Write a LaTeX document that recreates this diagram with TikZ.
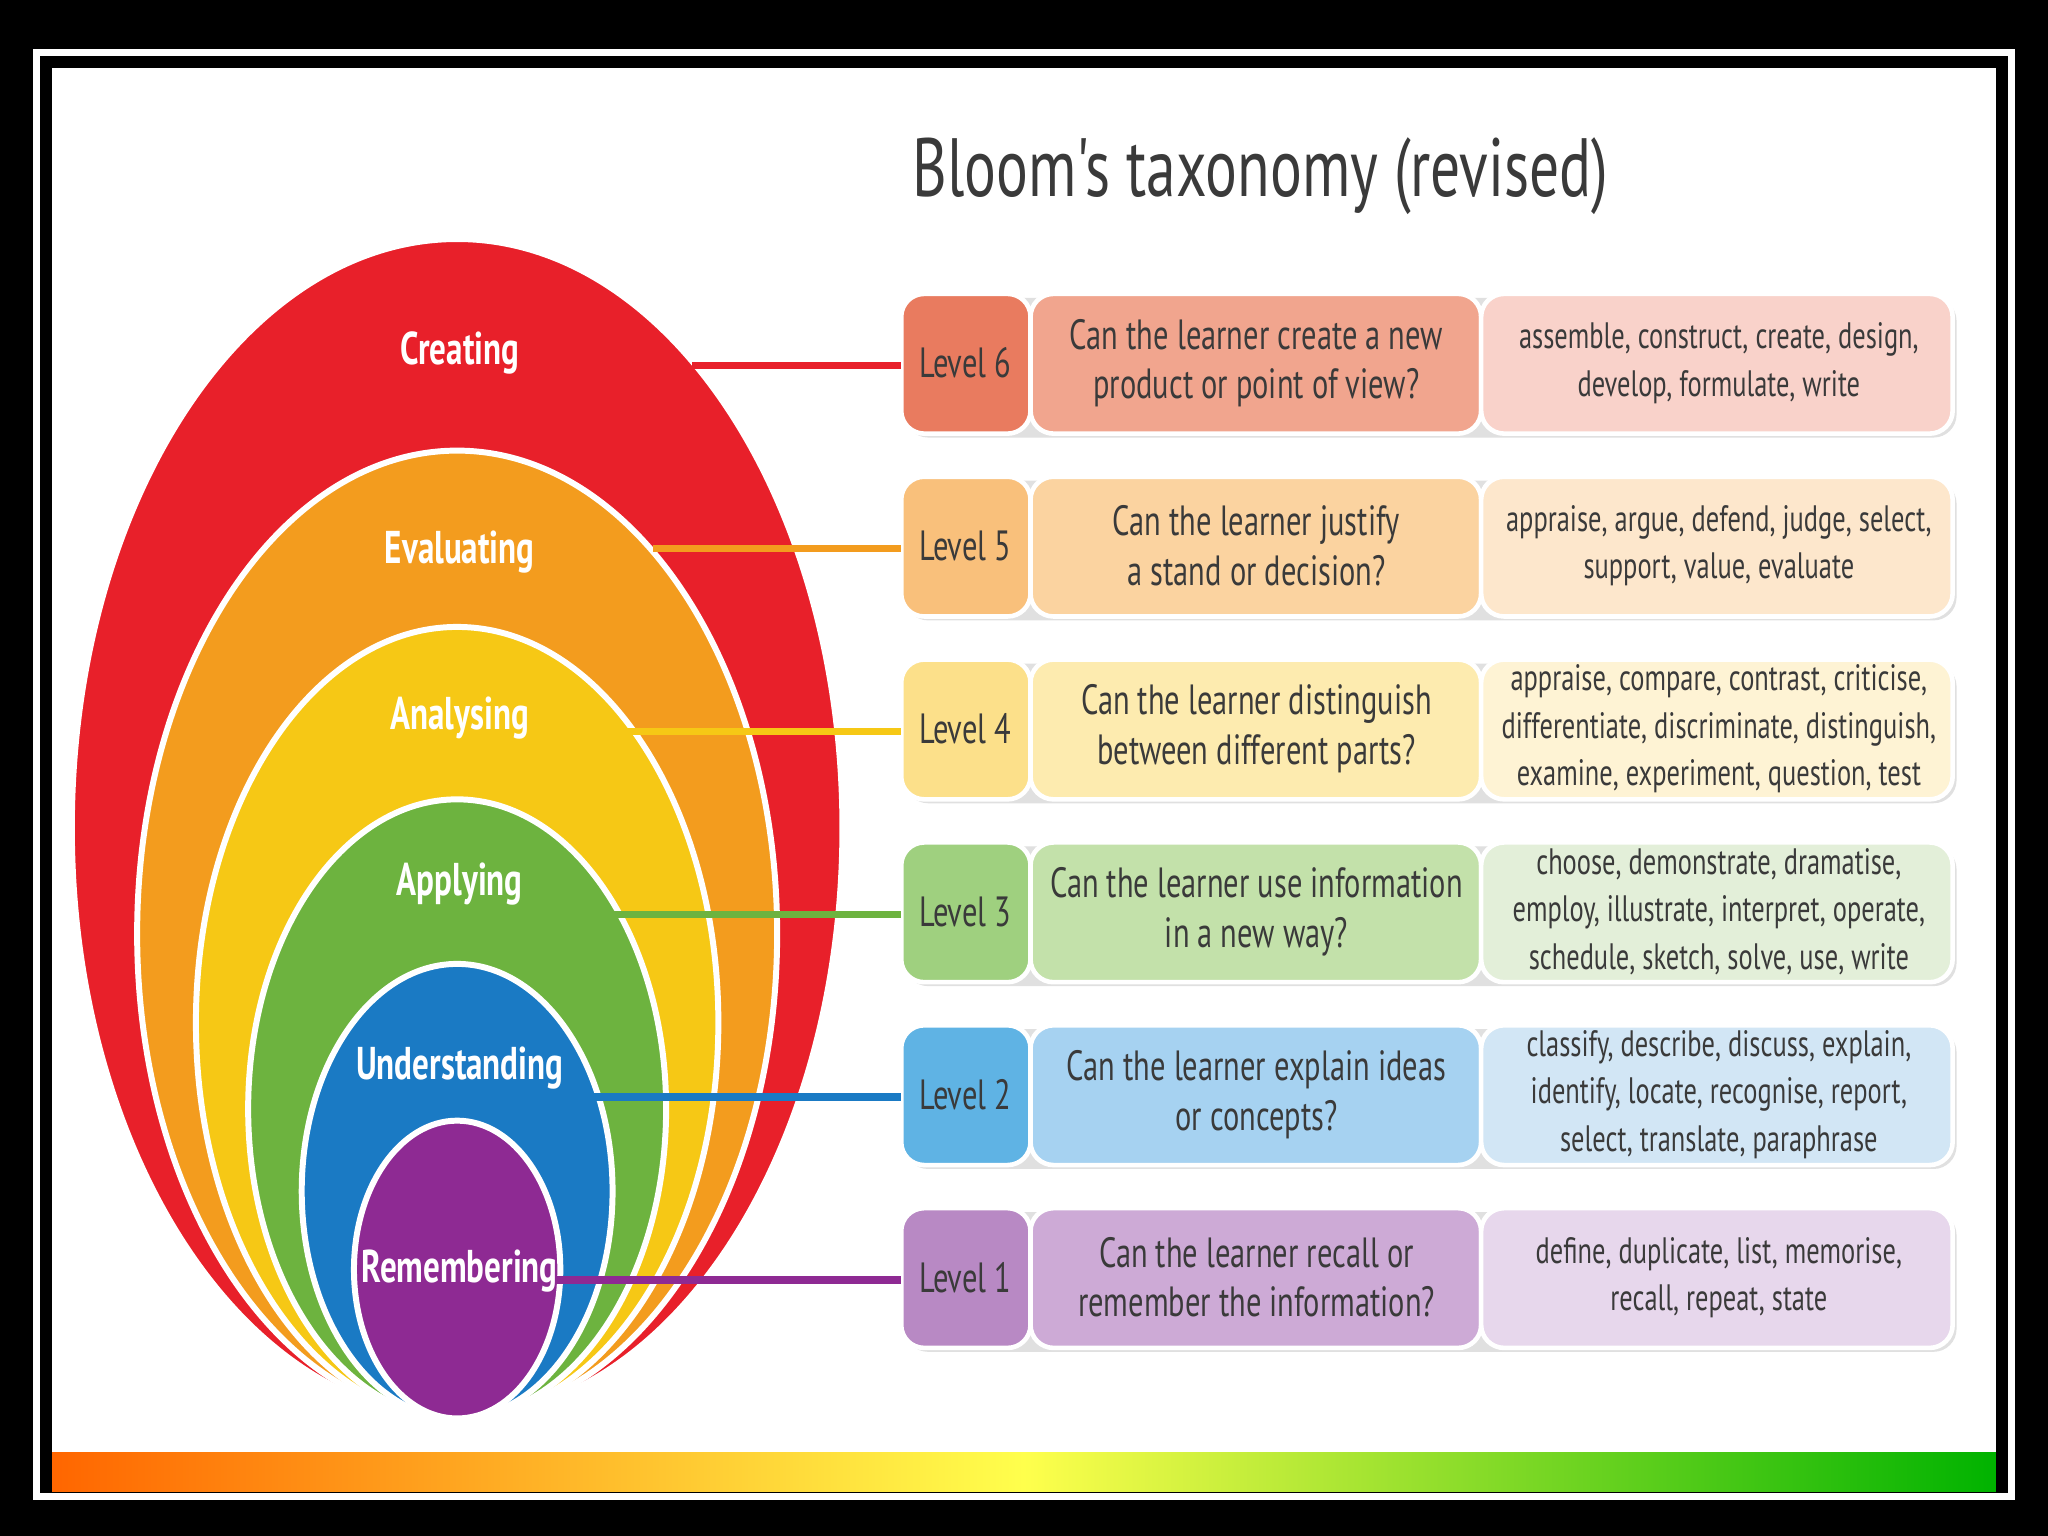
\documentclass[tikz,border=0pt]{standalone}
\usepackage{fontspec}
\newfontfamily\cond[FakeStretch=0.72]{PT Sans}
\newfontfamily\condb[FakeStretch=0.72]{PT Sans Bold}
\definecolor{cR}{HTML}{E8202A}\definecolor{cO}{HTML}{F39C1E}\definecolor{cY}{HTML}{F6C815}
\definecolor{cG}{HTML}{6DB33F}\definecolor{cB}{HTML}{1A7AC4}\definecolor{cP}{HTML}{8E2A93}
\definecolor{l6}{HTML}{E97B5F}\definecolor{q6}{HTML}{F1A58E}\definecolor{v6}{HTML}{F9D2CA}
\definecolor{l5}{HTML}{F9C07B}\definecolor{q5}{HTML}{FBD3A0}\definecolor{v5}{HTML}{FDE7CC}
\definecolor{l4}{HTML}{FCE08A}\definecolor{q4}{HTML}{FDEBAF}\definecolor{v4}{HTML}{FEF3D4}
\definecolor{l3}{HTML}{9FD07F}\definecolor{q3}{HTML}{C3E1AA}\definecolor{v3}{HTML}{E3EFD9}
\definecolor{l2}{HTML}{5FB3E4}\definecolor{q2}{HTML}{A6D2F1}\definecolor{v2}{HTML}{D2E6F5}
\definecolor{l1}{HTML}{B889C4}\definecolor{q1}{HTML}{CDAAD6}\definecolor{v1}{HTML}{E7D7EC}
\definecolor{txt}{HTML}{3A3A3A}
\begin{document}
\begin{tikzpicture}[x=0.01cm,y=-0.01cm,
  ring/.style={draw=white,line width=1.3pt},
  lab/.style={text=white,font=\condb\fontsize{10}{12}\selectfont},
  conn/.style={line width=1.6pt},
  cell/.style={rounded corners=5pt,draw=white,line width=1pt},
  ctext/.style={align=center,text=txt,font=\cond\fontsize{9.2}{10.8}\selectfont},
  vtext/.style={align=center,text=txt,font=\cond\fontsize{8}{10.3}\selectfont}]
\fill[black] (0,0) rectangle (1568,1176);
\draw[white,line width=1.5pt] (28,40) rectangle (1540,1146);
\fill[white] (40,52) rectangle (1528,1112);
\shade[left color=orange!80!red,right color=green!70!black,middle color=yellow!70] (40,1112) rectangle (1528,1142);
\node[font=\cond\fontsize{18}{20}\selectfont,text=txt] (title) at (965,135) {Bloom's taxonomy (revised)};
\filldraw[fill=cR,ring] (350,634) ellipse [x radius=295,y radius=451];
\filldraw[fill=cO,ring] (350,715) ellipse [x radius=245,y radius=370];
\filldraw[fill=cY,ring] (350,783) ellipse [x radius=200,y radius=303];
\filldraw[fill=cG,ring] (350,849) ellipse [x radius=160,y radius=237];
\filldraw[fill=cB,ring] (350,912) ellipse [x radius=119,y radius=174];
\filldraw[fill=cP,ring] (350,972) ellipse [x radius=79,y radius=114];
\node[lab] (e6) at (352,270) {Creating};
\node[lab] (e5) at (352,423) {Evaluating};
\node[lab] (e4) at (352,550) {Analysing};
\node[lab] (e3) at (352,677) {Applying};
\node[lab] (e2) at (352,818) {Understanding};
\node[lab] (e1) at (352,973) {Remembering};
\foreach \n/\y/\c/\q/\v/\xs in {
 6/225/cR/{Can the learner create a new\\product or point of view?}/{assemble, construct, create, design,\\develop, formulate, write}/530,
 5/365/cO/{Can the learner justify\\a stand or decision?}/{appraise, argue, defend, judge, select,\\support, value, evaluate}/500,
 4/505/cY/{Can the learner distinguish\\between different parts?}/{appraise, compare, contrast, criticise,\\differentiate, discriminate, distinguish,\\examine, experiment, question, test}/480,
 3/645/cG/{Can the learner use information\\in a new way?}/{choose, demonstrate, dramatise,\\employ, illustrate, interpret, operate,\\schedule, sketch, solve, use, write}/470,
 2/785/cB/{Can the learner explain ideas\\or concepts?}/{classify, describe, discuss, explain,\\identify, locate, recognise, report,\\select, translate, paraphrase}/455,
 1/925/cP/{Can the learner recall or\\remember the information?}/{define, duplicate, list, memorise,\\recall, repeat, state}/425}{
  \fill[black!12,rounded corners=5pt] (693,\y+3) rectangle (1498,\y+110);
  \filldraw[cell,fill=l\n] (690,\y) rectangle (789,\y+107);
  \filldraw[cell,fill=q\n] (789,\y) rectangle (1134,\y+107);
  \filldraw[cell,fill=v\n] (1134,\y) rectangle (1495,\y+107);
  \node[ctext] (L\n) at (739,\y+53) {Level \n};
  \node[ctext] (Q\n) at (962,\y+53) {\q};
  \node[vtext] (V\n) at (1316,\y+53) {\v};
  \coordinate (s\n) at (\xs,\y+55);
  \coordinate (t\n) at (690,\y+55);
  \draw[conn,\c] (s\n) -- (t\n);
}
\end{tikzpicture}
\end{document}
